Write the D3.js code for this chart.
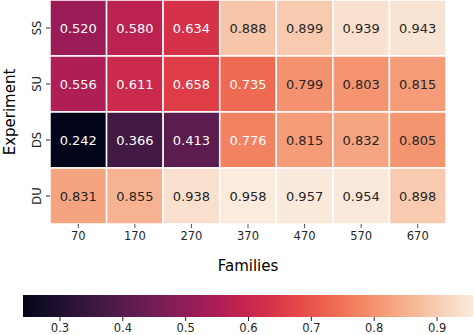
<!DOCTYPE html>
<html lang="en">
<head>
    <meta charset="UTF-8">
    <title>Experiment vs Families heatmap</title>
    <script src="https://d3js.org/d3.v7.min.js"></script>
    <style>
        body { margin: 0; background: #fff; }
        text { font-family: "DejaVu Sans", sans-serif; }
        .tick text { fill: #262626; font-size: 11.5px; }
        .tick line { stroke: #262626; }
        .domain { display: none; }
    </style>
</head>
<body>
    <svg id="chart" width="474" height="335"></svg>

    <script>
        const families = ["70", "170", "270", "370", "470", "570", "670"];
        const experiments = ["SS", "SU", "DS", "DU"];
        const valuesSS = [0.520, 0.580, 0.634, 0.888, 0.899, 0.939, 0.943];
        const valuesSU = [0.556, 0.611, 0.658, 0.735, 0.799, 0.803, 0.815];
        const valuesDS = [0.242, 0.366, 0.413, 0.776, 0.815, 0.832, 0.805];
        const valuesDU = [0.831, 0.855, 0.938, 0.958, 0.957, 0.954, 0.898];
        const colorbarTicks = [0.3, 0.4, 0.5, 0.6, 0.7, 0.8, 0.9];

        // approx. seaborn "rocket" colormap
        const rocketStops = ["#03051a", "#35193e", "#701f57", "#ad1759", "#e13342", "#f37651", "#f6b48f", "#faebdd"];
        const rocket = d3.interpolateRgbBasis(rocketStops);

        const rows = [valuesSS, valuesSU, valuesDS, valuesDU];
        const cells = [];
        rows.forEach((vals, i) => vals.forEach((v, j) => cells.push({ exp: experiments[i], fam: families[j], v })));

        const vmin = d3.min(cells, d => d.v), vmax = d3.max(cells, d => d.v);
        const color = d3.scaleSequential(rocket).domain([vmin, vmax]);

        const svg = d3.select("#chart");
        const x = d3.scaleBand().domain(families).range([50, 446]);
        const y = d3.scaleBand().domain(experiments).range([0, 224]);

        svg.selectAll("rect.cell").data(cells).enter().append("rect")
            .attr("class", "cell")
            .attr("x", d => x(d.fam)).attr("y", d => y(d.exp))
            .attr("width", x.bandwidth()).attr("height", y.bandwidth())
            .attr("fill", d => color(d.v))
            .attr("stroke", "#fff").attr("stroke-width", 1.5);

        function lum(c) {
            const rgb = d3.rgb(c);
            const f = u => { u /= 255; return u <= 0.03928 ? u / 12.92 : Math.pow((u + 0.055) / 1.055, 2.4); };
            return 0.2126 * f(rgb.r) + 0.7152 * f(rgb.g) + 0.0722 * f(rgb.b);
        }

        svg.selectAll("text.anno").data(cells).enter().append("text")
            .attr("class", "anno")
            .attr("x", d => x(d.fam) + x.bandwidth() / 2)
            .attr("y", d => y(d.exp) + y.bandwidth() / 2)
            .attr("dy", "0.35em")
            .attr("text-anchor", "middle")
            .attr("font-size", "13px")
            .attr("fill", d => lum(color(d.v)) > 0.37 ? "#262626" : "#ffffff")
            .text(d => d.v.toFixed(3));

        // axes
        svg.append("g").attr("transform", "translate(0,224)")
            .call(d3.axisBottom(x).tickSize(4).tickPadding(4))
            .selectAll(".tick line").attr("stroke-width", 0.8);

        const yAxis = svg.append("g").attr("transform", "translate(50,0)")
            .call(d3.axisLeft(y).tickSize(4).tickPadding(4));
        yAxis.selectAll(".tick text")
            .attr("transform", "rotate(-90)")
            .attr("x", 0).attr("y", -13).attr("dy", "0.35em")
            .attr("text-anchor", "middle");

        svg.append("text").attr("x", 248).attr("y", 271)
            .attr("text-anchor", "middle").attr("font-size", "15px").attr("fill", "#000")
            .text("Families");
        svg.append("text").attr("transform", "translate(15,112) rotate(-90)")
            .attr("text-anchor", "middle").attr("font-size", "15px").attr("fill", "#000")
            .text("Experiment");

        // colorbar
        const cb = d3.scaleLinear().domain([vmin, vmax]).range([23, 473]);
        const defs = svg.append("defs");
        const grad = defs.append("linearGradient").attr("id", "cbgrad");
        d3.range(0, 1.0001, 0.05).forEach(t => {
            grad.append("stop").attr("offset", t).attr("stop-color", rocket(t));
        });
        svg.append("rect").attr("x", cb.range()[0]).attr("y", 295)
            .attr("width", cb.range()[1] - cb.range()[0]).attr("height", 22)
            .attr("fill", "url(#cbgrad)");
        svg.append("g").attr("transform", "translate(0,317)")
            .call(d3.axisBottom(cb).tickValues(colorbarTicks).tickFormat(d3.format(".1f")).tickSize(4).tickPadding(3));
    </script>
</body>
</html>
